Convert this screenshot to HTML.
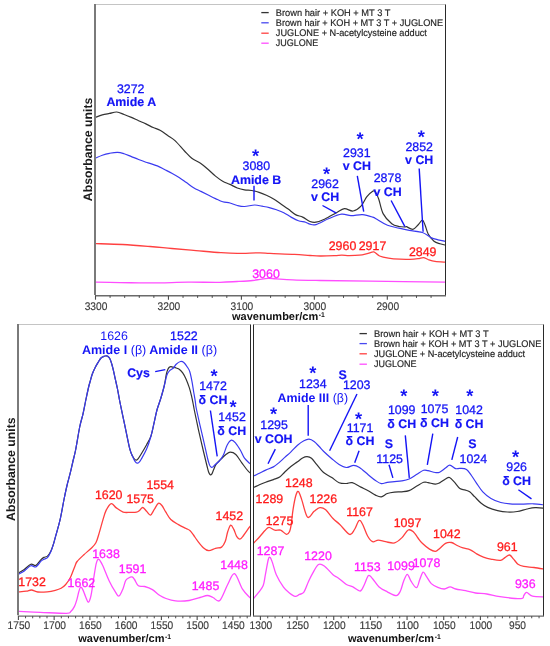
<!DOCTYPE html>
<html><head><meta charset="utf-8"><title>FTIR spectra</title><style>html,body{margin:0;padding:0;background:#fff;}svg{display:block;}text{font-family:"Liberation Sans",Arial,sans-serif;text-rendering:geometricPrecision;}</style></head><body>
<svg width="550" height="646" viewBox="0 0 550 646" font-family="Liberation Sans, Arial, sans-serif">
<rect width="550" height="646" fill="#ffffff"/>
<defs><clipPath id="cT"><rect x="96" y="5" width="349" height="290"/></clipPath><clipPath id="cL"><rect x="19" y="325" width="231" height="290.5"/></clipPath><clipPath id="cR"><rect x="254" y="325" width="289" height="290.5"/></clipPath></defs>
<line x1="95.00" y1="4.50" x2="445.50" y2="4.50" stroke="#c4c4c4" stroke-width="1.00" stroke-linecap="butt"/>
<line x1="445.50" y1="4.50" x2="445.50" y2="295.70" stroke="#2a2a2a" stroke-width="1.00" stroke-linecap="butt"/>
<line x1="95.00" y1="4.00" x2="95.00" y2="294.90" stroke="#7a7a7a" stroke-width="2.00" stroke-linecap="butt"/>
<line x1="95.00" y1="295.70" x2="446.00" y2="295.70" stroke="#6a6a6a" stroke-width="1.40" stroke-linecap="butt"/>
<line x1="431.07" y1="295.70" x2="431.07" y2="297.90" stroke="#4a4a4a" stroke-width="1.00" stroke-linecap="butt"/>
<line x1="416.48" y1="295.70" x2="416.48" y2="297.90" stroke="#4a4a4a" stroke-width="1.00" stroke-linecap="butt"/>
<line x1="401.89" y1="295.70" x2="401.89" y2="297.90" stroke="#4a4a4a" stroke-width="1.00" stroke-linecap="butt"/>
<line x1="387.30" y1="295.70" x2="387.30" y2="299.70" stroke="#4a4a4a" stroke-width="1.10" stroke-linecap="butt"/>
<line x1="372.71" y1="295.70" x2="372.71" y2="297.90" stroke="#4a4a4a" stroke-width="1.00" stroke-linecap="butt"/>
<line x1="358.12" y1="295.70" x2="358.12" y2="297.90" stroke="#4a4a4a" stroke-width="1.00" stroke-linecap="butt"/>
<line x1="343.53" y1="295.70" x2="343.53" y2="297.90" stroke="#4a4a4a" stroke-width="1.00" stroke-linecap="butt"/>
<line x1="328.94" y1="295.70" x2="328.94" y2="297.90" stroke="#4a4a4a" stroke-width="1.00" stroke-linecap="butt"/>
<line x1="314.35" y1="295.70" x2="314.35" y2="299.70" stroke="#4a4a4a" stroke-width="1.10" stroke-linecap="butt"/>
<line x1="299.76" y1="295.70" x2="299.76" y2="297.90" stroke="#4a4a4a" stroke-width="1.00" stroke-linecap="butt"/>
<line x1="285.17" y1="295.70" x2="285.17" y2="297.90" stroke="#4a4a4a" stroke-width="1.00" stroke-linecap="butt"/>
<line x1="270.58" y1="295.70" x2="270.58" y2="297.90" stroke="#4a4a4a" stroke-width="1.00" stroke-linecap="butt"/>
<line x1="255.99" y1="295.70" x2="255.99" y2="297.90" stroke="#4a4a4a" stroke-width="1.00" stroke-linecap="butt"/>
<line x1="241.40" y1="295.70" x2="241.40" y2="299.70" stroke="#4a4a4a" stroke-width="1.10" stroke-linecap="butt"/>
<line x1="226.81" y1="295.70" x2="226.81" y2="297.90" stroke="#4a4a4a" stroke-width="1.00" stroke-linecap="butt"/>
<line x1="212.22" y1="295.70" x2="212.22" y2="297.90" stroke="#4a4a4a" stroke-width="1.00" stroke-linecap="butt"/>
<line x1="197.63" y1="295.70" x2="197.63" y2="297.90" stroke="#4a4a4a" stroke-width="1.00" stroke-linecap="butt"/>
<line x1="183.04" y1="295.70" x2="183.04" y2="297.90" stroke="#4a4a4a" stroke-width="1.00" stroke-linecap="butt"/>
<line x1="168.45" y1="295.70" x2="168.45" y2="299.70" stroke="#4a4a4a" stroke-width="1.10" stroke-linecap="butt"/>
<line x1="153.86" y1="295.70" x2="153.86" y2="297.90" stroke="#4a4a4a" stroke-width="1.00" stroke-linecap="butt"/>
<line x1="139.27" y1="295.70" x2="139.27" y2="297.90" stroke="#4a4a4a" stroke-width="1.00" stroke-linecap="butt"/>
<line x1="124.68" y1="295.70" x2="124.68" y2="297.90" stroke="#4a4a4a" stroke-width="1.00" stroke-linecap="butt"/>
<line x1="110.09" y1="295.70" x2="110.09" y2="297.90" stroke="#4a4a4a" stroke-width="1.00" stroke-linecap="butt"/>
<line x1="95.50" y1="295.70" x2="95.50" y2="299.70" stroke="#4a4a4a" stroke-width="1.10" stroke-linecap="butt"/>
<text x="96.00" y="309.60" fill="#3a3a3a" font-size="11.00" text-anchor="middle" stroke="#3a3a3a" stroke-width="0.15" textLength="22.68" lengthAdjust="spacingAndGlyphs">3300</text>
<text x="168.95" y="309.60" fill="#3a3a3a" font-size="11.00" text-anchor="middle" stroke="#3a3a3a" stroke-width="0.15" textLength="22.68" lengthAdjust="spacingAndGlyphs">3200</text>
<text x="241.90" y="309.60" fill="#3a3a3a" font-size="11.00" text-anchor="middle" stroke="#3a3a3a" stroke-width="0.15" textLength="22.68" lengthAdjust="spacingAndGlyphs">3100</text>
<text x="314.85" y="309.60" fill="#3a3a3a" font-size="11.00" text-anchor="middle" stroke="#3a3a3a" stroke-width="0.15" textLength="22.68" lengthAdjust="spacingAndGlyphs">3000</text>
<text x="387.80" y="309.60" fill="#3a3a3a" font-size="11.00" text-anchor="middle" stroke="#3a3a3a" stroke-width="0.15" textLength="22.68" lengthAdjust="spacingAndGlyphs">2900</text>
<path d="M95.50,282.20 C99.58,282.27 112.75,282.50 120.00,282.60 C127.25,282.70 132.33,282.77 139.00,282.80 C145.67,282.83 151.83,282.90 160.00,282.80 C168.17,282.70 178.00,282.28 188.00,282.20 C198.00,282.12 211.83,282.42 220.00,282.30 C228.17,282.18 231.55,281.80 237.00,281.50 C242.45,281.20 248.87,280.87 252.70,280.50 C256.53,280.13 257.42,279.67 260.00,279.30 C262.58,278.93 265.53,278.38 268.20,278.30 C270.87,278.22 271.92,278.53 276.00,278.80 C280.08,279.07 285.37,279.62 292.70,279.90 C300.03,280.18 307.12,280.28 320.00,280.50 C332.88,280.72 349.00,280.92 370.00,281.20 C391.00,281.48 433.33,282.03 446.00,282.20" fill="none" stroke="#ff4dff" stroke-width="1.30" stroke-linejoin="round" stroke-linecap="round" clip-path="url(#cT)"/>
<path d="M95.50,243.60 C100.03,243.75 113.62,244.02 122.70,244.50 C131.78,244.98 141.82,245.83 150.00,246.50 C158.18,247.17 164.13,247.82 171.80,248.50 C179.47,249.18 187.82,249.90 196.00,250.60 C204.18,251.30 214.02,252.23 220.90,252.70 C227.78,253.17 230.78,253.38 237.30,253.40 C243.82,253.42 254.55,252.80 260.00,252.80 C265.45,252.80 264.25,253.13 270.00,253.40 C275.75,253.67 287.83,254.05 294.50,254.40 C301.17,254.75 305.75,255.23 310.00,255.50 C314.25,255.77 315.92,255.97 320.00,256.00 C324.08,256.03 330.87,255.83 334.50,255.70 C338.13,255.57 339.37,255.22 341.80,255.20 C344.23,255.18 346.18,255.60 349.10,255.60 C352.02,255.60 356.15,255.57 359.30,255.20 C362.45,254.83 365.58,253.95 368.00,253.40 C370.42,252.85 371.87,251.47 373.80,251.90 C375.73,252.33 377.17,254.97 379.60,256.00 C382.03,257.03 385.00,257.57 388.40,258.10 C391.80,258.63 396.40,259.00 400.00,259.20 C403.60,259.40 407.00,259.38 410.00,259.30 C413.00,259.22 415.75,258.98 418.00,258.70 C420.25,258.42 421.83,257.47 423.50,257.60 C425.17,257.73 426.08,258.87 428.00,259.50 C429.92,260.13 432.00,260.95 435.00,261.40 C438.00,261.85 444.17,262.07 446.00,262.20" fill="none" stroke="#ff4040" stroke-width="1.30" stroke-linejoin="round" stroke-linecap="round" clip-path="url(#cT)"/>
<path d="M95.50,117.40 C96.63,116.98 99.97,115.57 102.30,114.90 C104.63,114.23 107.08,113.88 109.50,113.40 C111.92,112.92 114.37,111.82 116.80,112.00 C119.23,112.18 121.67,113.60 124.10,114.50 C126.53,115.40 128.98,116.37 131.40,117.40 C133.82,118.43 136.18,119.62 138.60,120.70 C141.02,121.78 143.47,122.77 145.90,123.90 C148.33,125.03 150.77,126.40 153.20,127.50 C155.63,128.60 158.08,129.17 160.50,130.50 C162.92,131.83 165.28,133.82 167.70,135.50 C170.12,137.18 172.20,138.02 175.00,140.60 C177.80,143.18 181.70,148.05 184.50,151.00 C187.30,153.95 189.13,156.27 191.80,158.30 C194.47,160.33 197.77,161.33 200.50,163.20 C203.23,165.07 205.70,167.35 208.20,169.50 C210.70,171.65 213.08,174.15 215.50,176.10 C217.92,178.05 220.28,179.82 222.70,181.20 C225.12,182.58 227.57,183.27 230.00,184.40 C232.43,185.53 234.88,187.08 237.30,188.00 C239.72,188.92 242.08,189.48 244.50,189.90 C246.92,190.32 249.37,190.08 251.80,190.50 C254.23,190.92 256.67,191.60 259.10,192.40 C261.53,193.20 263.98,194.22 266.40,195.30 C268.82,196.38 271.18,197.45 273.60,198.90 C276.02,200.35 278.47,202.30 280.90,204.00 C283.33,205.70 285.77,207.33 288.20,209.10 C290.63,210.87 293.08,213.27 295.50,214.60 C297.92,215.93 300.28,215.95 302.70,217.10 C305.12,218.25 307.78,220.65 310.00,221.50 C312.22,222.35 313.50,222.62 316.00,222.20 C318.50,221.78 321.60,220.58 325.00,219.00 C328.40,217.42 333.17,214.42 336.40,212.70 C339.63,210.98 341.62,208.98 344.40,208.70 C347.18,208.42 350.33,211.42 353.10,211.00 C355.87,210.58 358.70,208.58 361.00,206.20 C363.30,203.82 364.95,199.18 366.90,196.70 C368.85,194.22 371.33,192.17 372.70,191.30 C374.07,190.43 374.10,190.22 375.10,191.50 C376.10,192.78 377.37,195.32 378.70,199.00 C380.03,202.68 380.92,209.47 383.10,213.60 C385.28,217.73 389.15,221.65 391.80,223.80 C394.45,225.95 396.82,225.97 399.00,226.50 C401.18,227.03 403.67,226.97 404.90,227.00 C406.13,227.03 405.07,226.32 406.40,226.70 C407.73,227.08 410.97,229.58 412.90,229.30 C414.83,229.02 416.42,226.52 418.00,225.00 C419.58,223.48 421.20,220.12 422.40,220.20 C423.60,220.28 424.23,223.20 425.20,225.50 C426.17,227.80 426.73,231.37 428.20,234.00 C429.67,236.63 432.03,239.67 434.00,241.30 C435.97,242.93 438.00,243.15 440.00,243.80 C442.00,244.45 445.00,244.97 446.00,245.20" fill="none" stroke="#333333" stroke-width="1.20" stroke-linejoin="round" stroke-linecap="round" clip-path="url(#cT)"/>
<path d="M95.50,158.10 C96.63,157.62 99.97,156.00 102.30,155.20 C104.63,154.40 106.97,153.78 109.50,153.30 C112.03,152.82 115.07,152.23 117.50,152.30 C119.93,152.37 121.78,152.98 124.10,153.70 C126.42,154.42 128.98,155.63 131.40,156.60 C133.82,157.57 136.18,158.57 138.60,159.50 C141.02,160.43 144.00,161.55 145.90,162.20 C147.80,162.85 148.10,162.78 150.00,163.40 C151.90,164.02 154.88,164.88 157.30,165.90 C159.72,166.92 162.08,168.28 164.50,169.50 C166.92,170.72 169.37,171.87 171.80,173.20 C174.23,174.53 176.67,175.93 179.10,177.50 C181.53,179.07 183.98,180.90 186.40,182.60 C188.82,184.30 191.18,186.23 193.60,187.70 C196.02,189.17 198.47,190.18 200.90,191.40 C203.33,192.62 205.77,193.80 208.20,195.00 C210.63,196.20 213.08,197.47 215.50,198.60 C217.92,199.73 220.28,201.07 222.70,201.80 C225.12,202.53 227.57,202.38 230.00,203.00 C232.43,203.62 234.88,204.92 237.30,205.50 C239.72,206.08 241.60,206.58 244.50,206.50 C247.40,206.42 251.78,205.05 254.70,205.00 C257.62,204.95 259.57,205.77 262.00,206.20 C264.43,206.63 266.88,207.00 269.30,207.60 C271.72,208.20 274.08,208.95 276.50,209.80 C278.92,210.65 281.37,211.48 283.80,212.70 C286.23,213.92 288.67,215.77 291.10,217.10 C293.53,218.43 295.98,219.85 298.40,220.70 C300.82,221.55 303.67,221.62 305.60,222.20 C307.53,222.78 308.27,223.80 310.00,224.20 C311.73,224.60 312.83,225.55 316.00,224.60 C319.17,223.65 324.75,220.23 329.00,218.50 C333.25,216.77 337.83,214.68 341.50,214.20 C345.17,213.72 347.50,215.53 351.00,215.60 C354.50,215.67 358.88,214.35 362.50,214.60 C366.12,214.85 370.23,216.28 372.70,217.10 C375.17,217.92 374.83,218.13 377.30,219.50 C379.77,220.87 383.88,223.85 387.50,225.30 C391.12,226.75 395.37,227.35 399.00,228.20 C402.63,229.05 405.40,229.68 409.30,230.40 C413.20,231.12 418.78,231.30 422.40,232.50 C426.02,233.70 428.40,236.38 431.00,237.60 C433.60,238.82 435.50,239.15 438.00,239.80 C440.50,240.45 444.67,241.22 446.00,241.50" fill="none" stroke="#3a3af0" stroke-width="1.20" stroke-linejoin="round" stroke-linecap="round" clip-path="url(#cT)"/>
<line x1="261.30" y1="12.60" x2="268.70" y2="12.60" stroke="#333333" stroke-width="1.30" stroke-linecap="butt"/>
<text x="275.80" y="15.60" fill="#262626" font-size="9.60" text-anchor="start" stroke="#262626" stroke-width="0.18" textLength="114.6" lengthAdjust="spacingAndGlyphs">Brown hair + KOH + MT 3 T</text>
<line x1="261.30" y1="22.80" x2="268.70" y2="22.80" stroke="#4848f0" stroke-width="1.30" stroke-linecap="butt"/>
<text x="275.80" y="25.80" fill="#262626" font-size="9.60" text-anchor="start" stroke="#262626" stroke-width="0.18" textLength="167.3" lengthAdjust="spacingAndGlyphs">Brown hair + KOH + MT 3 T + JUGLONE</text>
<line x1="261.30" y1="33.20" x2="268.70" y2="33.20" stroke="#ff4040" stroke-width="1.30" stroke-linecap="butt"/>
<text x="275.80" y="36.20" fill="#262626" font-size="9.60" text-anchor="start" stroke="#262626" stroke-width="0.18" textLength="151.1" lengthAdjust="spacingAndGlyphs">JUGLONE + N-acetylcysteine adduct</text>
<line x1="261.30" y1="43.20" x2="268.70" y2="43.20" stroke="#ff4dff" stroke-width="1.30" stroke-linecap="butt"/>
<text x="275.80" y="46.20" fill="#262626" font-size="9.60" text-anchor="start" stroke="#262626" stroke-width="0.18" textLength="42.5" lengthAdjust="spacingAndGlyphs">JUGLONE</text>
<text x="130.70" y="92.50" fill="#1414f5" font-size="12.40" text-anchor="middle" stroke="#1414f5" stroke-width="0.28">3272</text>
<text x="131.30" y="106.10" fill="#1414f5" font-size="12.40" font-weight="bold" text-anchor="middle" stroke="#1414f5" stroke-width="0.18">Amide A</text>
<text x="255.50" y="161.90" fill="#1414f5" font-size="18.3" font-weight="bold" text-anchor="middle">*</text>
<text x="256.30" y="170.10" fill="#1414f5" font-size="12.40" text-anchor="middle" stroke="#1414f5" stroke-width="0.28">3080</text>
<text x="256.10" y="184.30" fill="#1414f5" font-size="12.40" font-weight="bold" text-anchor="middle" stroke="#1414f5" stroke-width="0.18">Amide B</text>
<line x1="254.00" y1="185.80" x2="254.00" y2="200.40" stroke="#1414f5" stroke-width="1.40" stroke-linecap="butt"/>
<text x="326.50" y="180.10" fill="#1414f5" font-size="18.3" font-weight="bold" text-anchor="middle">*</text>
<text x="325.10" y="187.80" fill="#1414f5" font-size="12.40" text-anchor="middle" stroke="#1414f5" stroke-width="0.28">2962</text>
<text x="325.10" y="200.70" fill="#1414f5" font-size="12.40" font-weight="bold" text-anchor="middle" stroke="#1414f5" stroke-width="0.18">v CH</text>
<line x1="322.50" y1="205.50" x2="336.40" y2="213.20" stroke="#1414f5" stroke-width="1.40" stroke-linecap="butt"/>
<text x="360.00" y="145.40" fill="#1414f5" font-size="18.3" font-weight="bold" text-anchor="middle">*</text>
<text x="356.80" y="157.00" fill="#1414f5" font-size="12.40" text-anchor="middle" stroke="#1414f5" stroke-width="0.28">2931</text>
<text x="356.80" y="170.10" fill="#1414f5" font-size="12.40" font-weight="bold" text-anchor="middle" stroke="#1414f5" stroke-width="0.18">v CH</text>
<line x1="357.30" y1="175.90" x2="363.70" y2="211.70" stroke="#1414f5" stroke-width="1.40" stroke-linecap="butt"/>
<text x="387.50" y="182.30" fill="#1414f5" font-size="12.40" text-anchor="middle" stroke="#1414f5" stroke-width="0.28">2878</text>
<text x="387.50" y="196.10" fill="#1414f5" font-size="12.40" font-weight="bold" text-anchor="middle" stroke="#1414f5" stroke-width="0.18">v CH</text>
<line x1="391.10" y1="200.50" x2="404.90" y2="226.70" stroke="#1414f5" stroke-width="1.40" stroke-linecap="butt"/>
<text x="421.40" y="143.20" fill="#1414f5" font-size="18.3" font-weight="bold" text-anchor="middle">*</text>
<text x="419.20" y="150.80" fill="#1414f5" font-size="12.40" text-anchor="middle" stroke="#1414f5" stroke-width="0.28">2852</text>
<text x="419.20" y="163.80" fill="#1414f5" font-size="12.40" font-weight="bold" text-anchor="middle" stroke="#1414f5" stroke-width="0.18">v CH</text>
<line x1="419.20" y1="168.50" x2="423.10" y2="231.80" stroke="#1414f5" stroke-width="1.40" stroke-linecap="butt"/>
<text x="342.50" y="249.90" fill="#ff1a1a" font-size="12.40" text-anchor="middle" stroke="#ff1a1a" stroke-width="0.28">2960</text>
<text x="372.50" y="249.90" fill="#ff1a1a" font-size="12.40" text-anchor="middle" stroke="#ff1a1a" stroke-width="0.28">2917</text>
<text x="422.70" y="255.90" fill="#ff1a1a" font-size="12.40" text-anchor="middle" stroke="#ff1a1a" stroke-width="0.28">2849</text>
<text x="266.00" y="277.50" fill="#ff1aff" font-size="12.40" text-anchor="middle" stroke="#ff1aff" stroke-width="0.28">3060</text>
<text x="232.00" y="319.80" fill="#111" font-size="11" font-weight="bold">wavenumber/cm<tspan font-size="6.8" dx="0.6" dy="-2.9">-1</tspan></text>
<text transform="translate(92.3,149.4) rotate(-90)" fill="#1a1a1a" font-size="12.25" font-weight="bold" text-anchor="middle">Absorbance units</text>
<line x1="18.00" y1="324.50" x2="250.50" y2="324.50" stroke="#c4c4c4" stroke-width="1.00" stroke-linecap="butt"/>
<line x1="250.50" y1="324.50" x2="250.50" y2="616.10" stroke="#2a2a2a" stroke-width="1.00" stroke-linecap="butt"/>
<line x1="18.00" y1="324.00" x2="18.00" y2="615.30" stroke="#7a7a7a" stroke-width="2.00" stroke-linecap="butt"/>
<line x1="18.00" y1="616.10" x2="251.00" y2="616.10" stroke="#6a6a6a" stroke-width="1.40" stroke-linecap="butt"/>
<line x1="247.20" y1="616.10" x2="247.20" y2="618.30" stroke="#4a4a4a" stroke-width="1.00" stroke-linecap="butt"/>
<line x1="240.05" y1="616.10" x2="240.05" y2="618.30" stroke="#4a4a4a" stroke-width="1.00" stroke-linecap="butt"/>
<line x1="232.90" y1="616.10" x2="232.90" y2="620.10" stroke="#4a4a4a" stroke-width="1.10" stroke-linecap="butt"/>
<line x1="225.75" y1="616.10" x2="225.75" y2="618.30" stroke="#4a4a4a" stroke-width="1.00" stroke-linecap="butt"/>
<line x1="218.60" y1="616.10" x2="218.60" y2="618.30" stroke="#4a4a4a" stroke-width="1.00" stroke-linecap="butt"/>
<line x1="211.45" y1="616.10" x2="211.45" y2="618.30" stroke="#4a4a4a" stroke-width="1.00" stroke-linecap="butt"/>
<line x1="204.30" y1="616.10" x2="204.30" y2="618.30" stroke="#4a4a4a" stroke-width="1.00" stroke-linecap="butt"/>
<line x1="197.15" y1="616.10" x2="197.15" y2="620.10" stroke="#4a4a4a" stroke-width="1.10" stroke-linecap="butt"/>
<line x1="190.00" y1="616.10" x2="190.00" y2="618.30" stroke="#4a4a4a" stroke-width="1.00" stroke-linecap="butt"/>
<line x1="182.85" y1="616.10" x2="182.85" y2="618.30" stroke="#4a4a4a" stroke-width="1.00" stroke-linecap="butt"/>
<line x1="175.70" y1="616.10" x2="175.70" y2="618.30" stroke="#4a4a4a" stroke-width="1.00" stroke-linecap="butt"/>
<line x1="168.55" y1="616.10" x2="168.55" y2="618.30" stroke="#4a4a4a" stroke-width="1.00" stroke-linecap="butt"/>
<line x1="161.40" y1="616.10" x2="161.40" y2="620.10" stroke="#4a4a4a" stroke-width="1.10" stroke-linecap="butt"/>
<line x1="154.25" y1="616.10" x2="154.25" y2="618.30" stroke="#4a4a4a" stroke-width="1.00" stroke-linecap="butt"/>
<line x1="147.10" y1="616.10" x2="147.10" y2="618.30" stroke="#4a4a4a" stroke-width="1.00" stroke-linecap="butt"/>
<line x1="139.95" y1="616.10" x2="139.95" y2="618.30" stroke="#4a4a4a" stroke-width="1.00" stroke-linecap="butt"/>
<line x1="132.80" y1="616.10" x2="132.80" y2="618.30" stroke="#4a4a4a" stroke-width="1.00" stroke-linecap="butt"/>
<line x1="125.65" y1="616.10" x2="125.65" y2="620.10" stroke="#4a4a4a" stroke-width="1.10" stroke-linecap="butt"/>
<line x1="118.50" y1="616.10" x2="118.50" y2="618.30" stroke="#4a4a4a" stroke-width="1.00" stroke-linecap="butt"/>
<line x1="111.35" y1="616.10" x2="111.35" y2="618.30" stroke="#4a4a4a" stroke-width="1.00" stroke-linecap="butt"/>
<line x1="104.20" y1="616.10" x2="104.20" y2="618.30" stroke="#4a4a4a" stroke-width="1.00" stroke-linecap="butt"/>
<line x1="97.05" y1="616.10" x2="97.05" y2="618.30" stroke="#4a4a4a" stroke-width="1.00" stroke-linecap="butt"/>
<line x1="89.90" y1="616.10" x2="89.90" y2="620.10" stroke="#4a4a4a" stroke-width="1.10" stroke-linecap="butt"/>
<line x1="82.75" y1="616.10" x2="82.75" y2="618.30" stroke="#4a4a4a" stroke-width="1.00" stroke-linecap="butt"/>
<line x1="75.60" y1="616.10" x2="75.60" y2="618.30" stroke="#4a4a4a" stroke-width="1.00" stroke-linecap="butt"/>
<line x1="68.45" y1="616.10" x2="68.45" y2="618.30" stroke="#4a4a4a" stroke-width="1.00" stroke-linecap="butt"/>
<line x1="61.30" y1="616.10" x2="61.30" y2="618.30" stroke="#4a4a4a" stroke-width="1.00" stroke-linecap="butt"/>
<line x1="54.15" y1="616.10" x2="54.15" y2="620.10" stroke="#4a4a4a" stroke-width="1.10" stroke-linecap="butt"/>
<line x1="47.00" y1="616.10" x2="47.00" y2="618.30" stroke="#4a4a4a" stroke-width="1.00" stroke-linecap="butt"/>
<line x1="39.85" y1="616.10" x2="39.85" y2="618.30" stroke="#4a4a4a" stroke-width="1.00" stroke-linecap="butt"/>
<line x1="32.70" y1="616.10" x2="32.70" y2="618.30" stroke="#4a4a4a" stroke-width="1.00" stroke-linecap="butt"/>
<line x1="25.55" y1="616.10" x2="25.55" y2="618.30" stroke="#4a4a4a" stroke-width="1.00" stroke-linecap="butt"/>
<line x1="18.40" y1="616.10" x2="18.40" y2="620.10" stroke="#4a4a4a" stroke-width="1.10" stroke-linecap="butt"/>
<text x="18.90" y="629.20" fill="#3a3a3a" font-size="11.00" text-anchor="middle" stroke="#3a3a3a" stroke-width="0.15" textLength="22.68" lengthAdjust="spacingAndGlyphs">1750</text>
<text x="54.65" y="629.20" fill="#3a3a3a" font-size="11.00" text-anchor="middle" stroke="#3a3a3a" stroke-width="0.15" textLength="22.68" lengthAdjust="spacingAndGlyphs">1700</text>
<text x="90.40" y="629.20" fill="#3a3a3a" font-size="11.00" text-anchor="middle" stroke="#3a3a3a" stroke-width="0.15" textLength="22.68" lengthAdjust="spacingAndGlyphs">1650</text>
<text x="126.15" y="629.20" fill="#3a3a3a" font-size="11.00" text-anchor="middle" stroke="#3a3a3a" stroke-width="0.15" textLength="22.68" lengthAdjust="spacingAndGlyphs">1600</text>
<text x="161.90" y="629.20" fill="#3a3a3a" font-size="11.00" text-anchor="middle" stroke="#3a3a3a" stroke-width="0.15" textLength="22.68" lengthAdjust="spacingAndGlyphs">1550</text>
<text x="197.65" y="629.20" fill="#3a3a3a" font-size="11.00" text-anchor="middle" stroke="#3a3a3a" stroke-width="0.15" textLength="22.68" lengthAdjust="spacingAndGlyphs">1500</text>
<text x="233.40" y="629.20" fill="#3a3a3a" font-size="11.00" text-anchor="middle" stroke="#3a3a3a" stroke-width="0.15" textLength="22.68" lengthAdjust="spacingAndGlyphs">1450</text>
<text transform="translate(15.4,469.2) rotate(-90)" fill="#1a1a1a" font-size="12.25" font-weight="bold" text-anchor="middle">Absorbance units</text>
<text x="78.30" y="641.70" fill="#111" font-size="11" font-weight="bold">wavenumber/cm<tspan font-size="6.8" dx="0.6" dy="-2.9">-1</tspan></text>
<path d="M18.20,611.40 C21.87,611.55 32.15,611.97 40.20,612.30 C48.25,612.63 61.40,613.53 66.50,613.40 C71.60,613.27 69.47,612.67 70.80,611.50 C72.13,610.33 73.47,608.47 74.50,606.40 C75.53,604.33 76.28,601.53 77.00,599.10 C77.72,596.67 78.20,593.80 78.80,591.80 C79.40,589.80 79.93,587.47 80.60,587.10 C81.27,586.73 82.00,588.08 82.80,589.60 C83.60,591.12 84.48,594.10 85.40,596.20 C86.32,598.30 87.45,601.97 88.30,602.20 C89.15,602.43 89.90,599.57 90.50,597.60 C91.10,595.63 91.48,592.82 91.90,590.40 C92.32,587.98 92.68,585.25 93.00,583.10 C93.32,580.95 93.23,580.87 93.80,577.50 C94.37,574.13 95.55,565.93 96.40,562.90 C97.25,559.87 97.85,558.87 98.90,559.30 C99.95,559.73 101.00,561.93 102.70,565.50 C104.40,569.07 106.97,576.25 109.10,580.70 C111.23,585.15 113.85,589.65 115.50,592.20 C117.15,594.75 117.73,596.63 119.00,596.00 C120.27,595.37 122.00,590.95 123.10,588.40 C124.20,585.85 124.75,582.40 125.60,580.70 C126.45,579.00 127.13,578.83 128.20,578.20 C129.27,577.57 130.95,576.68 132.00,576.90 C133.05,577.12 133.43,578.02 134.50,579.50 C135.57,580.98 136.70,584.63 138.40,585.80 C140.10,586.97 142.37,585.87 144.70,586.50 C147.03,587.13 150.07,588.23 152.40,589.60 C154.73,590.97 156.43,593.22 158.70,594.70 C160.97,596.18 163.20,597.47 166.00,598.50 C168.80,599.53 171.65,600.57 175.50,600.90 C179.35,601.23 185.02,601.07 189.10,600.50 C193.18,599.93 196.97,598.33 200.00,597.50 C203.03,596.67 205.13,595.50 207.30,595.50 C209.47,595.50 210.92,596.67 213.00,597.50 C215.08,598.33 217.35,602.67 219.80,600.50 C222.25,598.33 225.25,588.98 227.70,584.50 C230.15,580.02 232.03,572.83 234.50,573.60 C236.97,574.37 240.03,585.20 242.50,589.10 C244.97,593.00 247.80,595.43 249.30,597.00 C250.80,598.57 251.13,598.25 251.50,598.50" fill="none" stroke="#ff4dff" stroke-width="1.30" stroke-linejoin="round" stroke-linecap="round" clip-path="url(#cL)"/>
<path d="M18.20,592.00 C19.55,591.87 24.08,591.53 26.30,591.20 C28.52,590.87 29.57,589.87 31.50,590.00 C33.43,590.13 35.28,591.70 37.90,592.00 C40.52,592.30 44.30,592.08 47.20,591.80 C50.10,591.52 52.98,590.90 55.30,590.30 C57.62,589.70 59.37,589.17 61.10,588.20 C62.83,587.23 64.15,586.28 65.70,584.50 C67.25,582.72 68.85,580.60 70.40,577.50 C71.95,574.40 73.88,568.57 75.00,565.90 C76.12,563.23 75.62,563.37 77.10,561.50 C78.58,559.63 81.63,556.83 83.90,554.70 C86.17,552.57 88.70,550.68 90.70,548.70 C92.70,546.72 94.47,545.48 95.90,542.80 C97.33,540.12 98.17,536.30 99.30,532.60 C100.43,528.90 101.57,524.30 102.70,520.60 C103.83,516.90 104.68,513.23 106.10,510.40 C107.52,507.57 109.50,504.02 111.20,503.60 C112.90,503.18 114.32,506.48 116.30,507.90 C118.28,509.32 120.82,511.35 123.10,512.10 C125.38,512.85 127.77,512.38 130.00,512.40 C132.23,512.42 134.92,512.52 136.50,512.20 C138.08,511.88 138.45,511.28 139.50,510.50 C140.55,509.72 141.62,507.37 142.80,507.50 C143.98,507.63 145.32,510.03 146.60,511.30 C147.88,512.57 149.22,515.42 150.50,515.10 C151.78,514.78 153.00,511.37 154.30,509.40 C155.60,507.43 157.03,503.95 158.30,503.30 C159.57,502.65 160.67,504.07 161.90,505.50 C163.13,506.93 164.22,509.57 165.70,511.90 C167.18,514.23 168.67,517.38 170.80,519.50 C172.93,521.62 175.95,523.10 178.50,524.60 C181.05,526.10 184.20,527.50 186.10,528.50 C188.00,529.50 188.67,529.52 189.90,530.60 C191.13,531.68 192.28,533.37 193.50,535.00 C194.72,536.63 195.57,538.28 197.20,540.40 C198.83,542.52 201.37,545.98 203.30,547.70 C205.23,549.42 206.77,550.60 208.80,550.70 C210.83,550.80 213.37,548.90 215.50,548.30 C217.63,547.70 219.98,548.22 221.60,547.10 C223.22,545.98 224.18,544.15 225.20,541.60 C226.22,539.05 226.78,534.55 227.70,531.80 C228.62,529.05 229.68,525.50 230.70,525.10 C231.72,524.70 232.78,527.47 233.80,529.40 C234.82,531.33 235.78,535.08 236.80,536.70 C237.82,538.32 238.78,539.30 239.90,539.10 C241.02,538.90 241.88,537.52 243.50,535.50 C245.12,533.48 248.18,528.83 249.60,527.00 C251.02,525.17 251.60,524.92 252.00,524.50" fill="none" stroke="#ff4040" stroke-width="1.30" stroke-linejoin="round" stroke-linecap="round" clip-path="url(#cL)"/>
<path d="M18.20,573.20 C19.22,572.57 22.20,570.88 24.30,569.40 C26.40,567.92 28.87,564.97 30.80,564.30 C32.73,563.63 34.20,566.18 35.90,565.40 C37.60,564.62 39.67,560.93 41.00,559.60 C42.33,558.27 42.82,557.98 43.90,557.40 C44.98,556.82 46.35,557.13 47.50,556.10 C48.65,555.07 49.82,553.18 50.80,551.20 C51.78,549.22 52.62,546.62 53.40,544.20 C54.18,541.78 54.38,540.78 55.50,536.70 C56.62,532.62 58.68,525.90 60.10,519.70 C61.52,513.50 62.85,505.20 64.00,499.50 C65.15,493.80 65.97,489.88 67.00,485.50 C68.03,481.12 69.20,477.28 70.20,473.20 C71.20,469.12 72.10,464.87 73.00,461.00 C73.90,457.13 74.48,455.67 75.60,450.00 C76.72,444.33 78.48,432.95 79.70,427.00 C80.92,421.05 81.93,418.55 82.90,414.30 C83.87,410.05 84.77,405.05 85.50,401.50 C86.23,397.95 86.72,395.67 87.30,393.00 C87.88,390.33 88.50,387.50 89.00,385.50 C89.50,383.50 89.75,382.92 90.30,381.00 C90.85,379.08 91.48,376.25 92.30,374.00 C93.12,371.75 94.23,369.43 95.20,367.50 C96.17,365.57 97.13,363.98 98.10,362.40 C99.07,360.82 100.03,359.00 101.00,358.00 C101.97,357.00 102.98,356.77 103.90,356.40 C104.82,356.03 105.65,355.65 106.50,355.80 C107.35,355.95 108.33,356.57 109.00,357.30 C109.67,358.03 110.02,359.00 110.50,360.20 C110.98,361.40 111.42,362.80 111.90,364.50 C112.38,366.20 112.92,368.33 113.40,370.40 C113.88,372.47 114.32,374.72 114.80,376.90 C115.28,379.08 115.85,381.48 116.30,383.50 C116.75,385.52 116.92,386.00 117.50,389.00 C118.08,392.00 118.88,396.87 119.80,401.50 C120.72,406.13 121.93,411.70 123.00,416.80 C124.07,421.90 125.13,427.00 126.20,432.10 C127.27,437.20 128.57,443.87 129.40,447.40 C130.23,450.93 130.57,451.65 131.20,453.30 C131.83,454.95 132.60,456.28 133.20,457.30 C133.80,458.32 134.27,458.92 134.80,459.40 C135.33,459.88 135.83,460.33 136.40,460.20 C136.97,460.07 137.40,459.63 138.20,458.60 C139.00,457.57 139.80,456.32 141.20,454.00 C142.60,451.68 144.97,447.70 146.60,444.70 C148.23,441.70 149.72,439.82 151.00,436.00 C152.28,432.18 153.28,426.22 154.30,421.80 C155.32,417.38 156.00,413.47 157.10,409.50 C158.20,405.53 159.72,401.92 160.90,398.00 C162.08,394.08 163.28,390.00 164.20,386.00 C165.12,382.00 165.80,376.75 166.40,374.00 C167.00,371.25 167.32,370.62 167.80,369.50 C168.28,368.38 168.78,367.78 169.30,367.30 C169.82,366.82 170.30,366.62 170.90,366.60 C171.50,366.58 172.02,366.97 172.90,367.20 C173.78,367.43 175.10,367.63 176.20,368.00 C177.30,368.37 178.42,368.58 179.50,369.40 C180.58,370.22 181.62,371.32 182.70,372.90 C183.78,374.48 184.90,376.45 186.00,378.90 C187.10,381.35 188.38,384.78 189.30,387.60 C190.22,390.42 190.87,393.15 191.50,395.80 C192.13,398.45 192.65,401.22 193.10,403.50 C193.55,405.78 193.67,406.83 194.20,409.50 C194.73,412.17 195.55,415.93 196.30,419.50 C197.05,423.07 197.48,425.48 198.70,430.90 C199.92,436.32 202.22,446.15 203.60,452.00 C204.98,457.85 206.15,462.62 207.00,466.00 C207.85,469.38 208.17,470.85 208.70,472.30 C209.23,473.75 209.70,474.38 210.20,474.70 C210.70,475.02 211.20,474.85 211.70,474.20 C212.20,473.55 212.48,472.43 213.20,470.80 C213.92,469.17 214.72,466.33 216.00,464.40 C217.28,462.47 219.25,460.85 220.90,459.20 C222.55,457.55 224.35,455.67 225.90,454.50 C227.45,453.33 228.55,452.20 230.20,452.20 C231.85,452.20 233.83,452.68 235.80,454.50 C237.77,456.32 239.93,460.32 242.00,463.10 C244.07,465.88 246.62,469.45 248.20,471.20 C249.78,472.95 250.95,473.20 251.50,473.60" fill="none" stroke="#333333" stroke-width="1.20" stroke-linejoin="round" stroke-linecap="round" clip-path="url(#cL)"/>
<path d="M18.20,574.40 C19.22,573.82 22.20,572.33 24.30,570.90 C26.40,569.47 28.87,566.47 30.80,565.80 C32.73,565.13 34.20,567.68 35.90,566.90 C37.60,566.12 39.67,562.37 41.00,561.10 C42.33,559.83 42.82,559.88 43.90,559.30 C44.98,558.72 46.35,558.85 47.50,557.60 C48.65,556.35 49.82,554.00 50.80,551.80 C51.78,549.60 52.62,546.92 53.40,544.40 C54.18,541.88 54.38,540.82 55.50,536.70 C56.62,532.58 58.68,525.90 60.10,519.70 C61.52,513.50 62.85,505.20 64.00,499.50 C65.15,493.80 65.97,489.88 67.00,485.50 C68.03,481.12 69.20,477.28 70.20,473.20 C71.20,469.12 72.10,464.87 73.00,461.00 C73.90,457.13 74.48,455.67 75.60,450.00 C76.72,444.33 78.48,432.95 79.70,427.00 C80.92,421.05 81.93,418.55 82.90,414.30 C83.87,410.05 84.77,405.05 85.50,401.50 C86.23,397.95 86.72,395.67 87.30,393.00 C87.88,390.33 88.50,387.50 89.00,385.50 C89.50,383.50 89.75,382.92 90.30,381.00 C90.85,379.08 91.48,376.25 92.30,374.00 C93.12,371.75 94.23,369.43 95.20,367.50 C96.17,365.57 97.13,363.98 98.10,362.40 C99.07,360.82 100.03,359.00 101.00,358.00 C101.97,357.00 102.98,356.77 103.90,356.40 C104.82,356.03 105.65,355.65 106.50,355.80 C107.35,355.95 108.33,356.57 109.00,357.30 C109.67,358.03 110.02,359.00 110.50,360.20 C110.98,361.40 111.42,362.80 111.90,364.50 C112.38,366.20 112.92,368.33 113.40,370.40 C113.88,372.47 114.32,374.72 114.80,376.90 C115.28,379.08 115.85,381.48 116.30,383.50 C116.75,385.52 116.92,386.00 117.50,389.00 C118.08,392.00 118.88,396.87 119.80,401.50 C120.72,406.13 121.93,411.70 123.00,416.80 C124.07,421.90 125.13,427.00 126.20,432.10 C127.27,437.20 128.55,443.83 129.40,447.40 C130.25,450.97 130.65,451.73 131.30,453.50 C131.95,455.27 132.68,456.70 133.30,458.00 C133.92,459.30 134.35,460.43 135.00,461.30 C135.65,462.17 136.50,463.05 137.20,463.20 C137.90,463.35 138.53,462.87 139.20,462.20 C139.87,461.53 139.97,461.38 141.20,459.20 C142.43,457.02 144.97,452.97 146.60,449.10 C148.23,445.23 149.72,440.55 151.00,436.00 C152.28,431.45 153.28,426.22 154.30,421.80 C155.32,417.38 156.00,413.47 157.10,409.50 C158.20,405.53 159.72,401.92 160.90,398.00 C162.08,394.08 163.20,389.82 164.20,386.00 C165.20,382.18 166.00,377.65 166.90,375.10 C167.80,372.55 168.50,371.88 169.60,370.70 C170.70,369.52 172.40,369.08 173.50,368.00 C174.60,366.92 175.03,365.28 176.20,364.20 C177.37,363.12 179.23,361.78 180.50,361.50 C181.77,361.22 182.62,361.50 183.80,362.50 C184.98,363.50 186.60,365.95 187.60,367.50 C188.60,369.05 189.07,369.45 189.80,371.80 C190.53,374.15 191.37,378.32 192.00,381.60 C192.63,384.88 193.05,388.22 193.60,391.50 C194.15,394.78 194.87,398.55 195.30,401.30 C195.73,404.05 195.43,404.08 196.20,408.00 C196.97,411.92 198.57,418.92 199.90,424.80 C201.23,430.68 202.92,437.68 204.20,443.30 C205.48,448.92 206.73,454.95 207.60,458.50 C208.47,462.05 208.83,463.17 209.40,464.60 C209.97,466.03 210.43,466.72 211.00,467.10 C211.57,467.48 212.17,467.25 212.80,466.90 C213.43,466.55 213.65,466.05 214.80,465.00 C215.95,463.95 218.27,462.25 219.70,460.60 C221.13,458.95 222.17,457.67 223.40,455.10 C224.63,452.53 225.75,447.68 227.10,445.20 C228.45,442.72 230.05,440.52 231.50,440.20 C232.95,439.88 234.27,441.55 235.80,443.30 C237.33,445.05 239.25,448.22 240.70,450.70 C242.15,453.18 243.05,456.13 244.50,458.20 C245.95,460.27 248.23,462.05 249.40,463.10 C250.57,464.15 251.15,464.27 251.50,464.50" fill="none" stroke="#3a3af0" stroke-width="1.20" stroke-linejoin="round" stroke-linecap="round" clip-path="url(#cL)"/>
<text x="114.1" y="339.8" fill="#1414f5" font-size="12.4" text-anchor="middle">1626</text>
<text x="81.9" y="353.8" fill="#1414f5" font-size="12.55" font-weight="bold">Amide I <tspan font-weight="normal">(&#946;)</tspan> Amide II <tspan font-weight="normal">(&#946;)</tspan></text>
<text x="183.90" y="340.20" fill="#1414f5" font-size="12.40" text-anchor="middle" stroke="#1414f5" stroke-width="0.28">1522</text>
<text x="149.90" y="376.60" fill="#1414f5" font-size="12.40" font-weight="bold" text-anchor="end" stroke="#1414f5" stroke-width="0.18">Cys</text>
<line x1="155.20" y1="371.60" x2="165.30" y2="369.60" stroke="#1414f5" stroke-width="1.40" stroke-linecap="butt"/>
<text x="214.10" y="381.90" fill="#1414f5" font-size="18.3" font-weight="bold" text-anchor="middle">*</text>
<text x="213.00" y="390.20" fill="#1414f5" font-size="12.40" text-anchor="middle" stroke="#1414f5" stroke-width="0.28">1472</text>
<text x="213.00" y="403.80" fill="#1414f5" font-size="12.40" font-weight="bold" text-anchor="middle" stroke="#1414f5" stroke-width="0.18">&#948; CH</text>
<line x1="210.40" y1="410.50" x2="217.20" y2="456.30" stroke="#1414f5" stroke-width="1.40" stroke-linecap="butt"/>
<text x="233.00" y="412.60" fill="#1414f5" font-size="18.3" font-weight="bold" text-anchor="middle">*</text>
<text x="232.00" y="420.60" fill="#1414f5" font-size="12.40" text-anchor="middle" stroke="#1414f5" stroke-width="0.28">1452</text>
<text x="231.80" y="434.50" fill="#1414f5" font-size="12.40" font-weight="bold" text-anchor="middle" stroke="#1414f5" stroke-width="0.18">&#948; CH</text>
<text x="108.70" y="498.80" fill="#ff1a1a" font-size="12.40" text-anchor="middle" stroke="#ff1a1a" stroke-width="0.28">1620</text>
<text x="140.20" y="502.50" fill="#ff1a1a" font-size="12.40" text-anchor="middle" stroke="#ff1a1a" stroke-width="0.28">1575</text>
<text x="160.20" y="488.80" fill="#ff1a1a" font-size="12.40" text-anchor="middle" stroke="#ff1a1a" stroke-width="0.28">1554</text>
<text x="229.30" y="520.10" fill="#ff1a1a" font-size="12.40" text-anchor="middle" stroke="#ff1a1a" stroke-width="0.28">1452</text>
<text x="32.10" y="586.40" fill="#ff1a1a" font-size="12.40" text-anchor="middle" stroke="#ff1a1a" stroke-width="0.28">1732</text>
<text x="81.40" y="586.90" fill="#ff1aff" font-size="12.40" text-anchor="middle" stroke="#ff1aff" stroke-width="0.28">1662</text>
<text x="106.00" y="558.40" fill="#ff1aff" font-size="12.40" text-anchor="middle" stroke="#ff1aff" stroke-width="0.28">1638</text>
<text x="132.60" y="572.90" fill="#ff1aff" font-size="12.40" text-anchor="middle" stroke="#ff1aff" stroke-width="0.28">1591</text>
<text x="205.50" y="590.00" fill="#ff1aff" font-size="12.40" text-anchor="middle" stroke="#ff1aff" stroke-width="0.28">1485</text>
<text x="234.10" y="568.80" fill="#ff1aff" font-size="12.40" text-anchor="middle" stroke="#ff1aff" stroke-width="0.28">1448</text>
<line x1="253.50" y1="324.50" x2="543.50" y2="324.50" stroke="#c4c4c4" stroke-width="1.00" stroke-linecap="butt"/>
<line x1="543.50" y1="324.50" x2="543.50" y2="616.10" stroke="#2a2a2a" stroke-width="1.00" stroke-linecap="butt"/>
<line x1="253.50" y1="324.50" x2="253.50" y2="616.10" stroke="#2a2a2a" stroke-width="1.00" stroke-linecap="butt"/>
<line x1="253.00" y1="616.10" x2="544.00" y2="616.10" stroke="#6a6a6a" stroke-width="1.40" stroke-linecap="butt"/>
<line x1="539.05" y1="616.10" x2="539.05" y2="618.30" stroke="#4a4a4a" stroke-width="1.00" stroke-linecap="butt"/>
<line x1="531.72" y1="616.10" x2="531.72" y2="618.30" stroke="#4a4a4a" stroke-width="1.00" stroke-linecap="butt"/>
<line x1="524.39" y1="616.10" x2="524.39" y2="618.30" stroke="#4a4a4a" stroke-width="1.00" stroke-linecap="butt"/>
<line x1="517.05" y1="616.10" x2="517.05" y2="620.10" stroke="#4a4a4a" stroke-width="1.10" stroke-linecap="butt"/>
<line x1="509.72" y1="616.10" x2="509.72" y2="618.30" stroke="#4a4a4a" stroke-width="1.00" stroke-linecap="butt"/>
<line x1="502.39" y1="616.10" x2="502.39" y2="618.30" stroke="#4a4a4a" stroke-width="1.00" stroke-linecap="butt"/>
<line x1="495.06" y1="616.10" x2="495.06" y2="618.30" stroke="#4a4a4a" stroke-width="1.00" stroke-linecap="butt"/>
<line x1="487.72" y1="616.10" x2="487.72" y2="618.30" stroke="#4a4a4a" stroke-width="1.00" stroke-linecap="butt"/>
<line x1="480.39" y1="616.10" x2="480.39" y2="620.10" stroke="#4a4a4a" stroke-width="1.10" stroke-linecap="butt"/>
<line x1="473.06" y1="616.10" x2="473.06" y2="618.30" stroke="#4a4a4a" stroke-width="1.00" stroke-linecap="butt"/>
<line x1="465.72" y1="616.10" x2="465.72" y2="618.30" stroke="#4a4a4a" stroke-width="1.00" stroke-linecap="butt"/>
<line x1="458.39" y1="616.10" x2="458.39" y2="618.30" stroke="#4a4a4a" stroke-width="1.00" stroke-linecap="butt"/>
<line x1="451.06" y1="616.10" x2="451.06" y2="618.30" stroke="#4a4a4a" stroke-width="1.00" stroke-linecap="butt"/>
<line x1="443.72" y1="616.10" x2="443.72" y2="620.10" stroke="#4a4a4a" stroke-width="1.10" stroke-linecap="butt"/>
<line x1="436.39" y1="616.10" x2="436.39" y2="618.30" stroke="#4a4a4a" stroke-width="1.00" stroke-linecap="butt"/>
<line x1="429.06" y1="616.10" x2="429.06" y2="618.30" stroke="#4a4a4a" stroke-width="1.00" stroke-linecap="butt"/>
<line x1="421.73" y1="616.10" x2="421.73" y2="618.30" stroke="#4a4a4a" stroke-width="1.00" stroke-linecap="butt"/>
<line x1="414.39" y1="616.10" x2="414.39" y2="618.30" stroke="#4a4a4a" stroke-width="1.00" stroke-linecap="butt"/>
<line x1="407.06" y1="616.10" x2="407.06" y2="620.10" stroke="#4a4a4a" stroke-width="1.10" stroke-linecap="butt"/>
<line x1="399.73" y1="616.10" x2="399.73" y2="618.30" stroke="#4a4a4a" stroke-width="1.00" stroke-linecap="butt"/>
<line x1="392.39" y1="616.10" x2="392.39" y2="618.30" stroke="#4a4a4a" stroke-width="1.00" stroke-linecap="butt"/>
<line x1="385.06" y1="616.10" x2="385.06" y2="618.30" stroke="#4a4a4a" stroke-width="1.00" stroke-linecap="butt"/>
<line x1="377.73" y1="616.10" x2="377.73" y2="618.30" stroke="#4a4a4a" stroke-width="1.00" stroke-linecap="butt"/>
<line x1="370.39" y1="616.10" x2="370.39" y2="620.10" stroke="#4a4a4a" stroke-width="1.10" stroke-linecap="butt"/>
<line x1="363.06" y1="616.10" x2="363.06" y2="618.30" stroke="#4a4a4a" stroke-width="1.00" stroke-linecap="butt"/>
<line x1="355.73" y1="616.10" x2="355.73" y2="618.30" stroke="#4a4a4a" stroke-width="1.00" stroke-linecap="butt"/>
<line x1="348.40" y1="616.10" x2="348.40" y2="618.30" stroke="#4a4a4a" stroke-width="1.00" stroke-linecap="butt"/>
<line x1="341.06" y1="616.10" x2="341.06" y2="618.30" stroke="#4a4a4a" stroke-width="1.00" stroke-linecap="butt"/>
<line x1="333.73" y1="616.10" x2="333.73" y2="620.10" stroke="#4a4a4a" stroke-width="1.10" stroke-linecap="butt"/>
<line x1="326.40" y1="616.10" x2="326.40" y2="618.30" stroke="#4a4a4a" stroke-width="1.00" stroke-linecap="butt"/>
<line x1="319.06" y1="616.10" x2="319.06" y2="618.30" stroke="#4a4a4a" stroke-width="1.00" stroke-linecap="butt"/>
<line x1="311.73" y1="616.10" x2="311.73" y2="618.30" stroke="#4a4a4a" stroke-width="1.00" stroke-linecap="butt"/>
<line x1="304.40" y1="616.10" x2="304.40" y2="618.30" stroke="#4a4a4a" stroke-width="1.00" stroke-linecap="butt"/>
<line x1="297.06" y1="616.10" x2="297.06" y2="620.10" stroke="#4a4a4a" stroke-width="1.10" stroke-linecap="butt"/>
<line x1="289.73" y1="616.10" x2="289.73" y2="618.30" stroke="#4a4a4a" stroke-width="1.00" stroke-linecap="butt"/>
<line x1="282.40" y1="616.10" x2="282.40" y2="618.30" stroke="#4a4a4a" stroke-width="1.00" stroke-linecap="butt"/>
<line x1="275.07" y1="616.10" x2="275.07" y2="618.30" stroke="#4a4a4a" stroke-width="1.00" stroke-linecap="butt"/>
<line x1="267.73" y1="616.10" x2="267.73" y2="618.30" stroke="#4a4a4a" stroke-width="1.00" stroke-linecap="butt"/>
<line x1="260.40" y1="616.10" x2="260.40" y2="620.10" stroke="#4a4a4a" stroke-width="1.10" stroke-linecap="butt"/>
<text x="260.90" y="629.20" fill="#3a3a3a" font-size="11.00" text-anchor="middle" stroke="#3a3a3a" stroke-width="0.15" textLength="22.68" lengthAdjust="spacingAndGlyphs">1300</text>
<text x="297.56" y="629.20" fill="#3a3a3a" font-size="11.00" text-anchor="middle" stroke="#3a3a3a" stroke-width="0.15" textLength="22.68" lengthAdjust="spacingAndGlyphs">1250</text>
<text x="334.23" y="629.20" fill="#3a3a3a" font-size="11.00" text-anchor="middle" stroke="#3a3a3a" stroke-width="0.15" textLength="22.68" lengthAdjust="spacingAndGlyphs">1200</text>
<text x="370.89" y="629.20" fill="#3a3a3a" font-size="11.00" text-anchor="middle" stroke="#3a3a3a" stroke-width="0.15" textLength="22.68" lengthAdjust="spacingAndGlyphs">1150</text>
<text x="407.56" y="629.20" fill="#3a3a3a" font-size="11.00" text-anchor="middle" stroke="#3a3a3a" stroke-width="0.15" textLength="22.68" lengthAdjust="spacingAndGlyphs">1100</text>
<text x="444.22" y="629.20" fill="#3a3a3a" font-size="11.00" text-anchor="middle" stroke="#3a3a3a" stroke-width="0.15" textLength="22.68" lengthAdjust="spacingAndGlyphs">1050</text>
<text x="480.89" y="629.20" fill="#3a3a3a" font-size="11.00" text-anchor="middle" stroke="#3a3a3a" stroke-width="0.15" textLength="22.68" lengthAdjust="spacingAndGlyphs">1000</text>
<text x="517.55" y="629.20" fill="#3a3a3a" font-size="11.00" text-anchor="middle" stroke="#3a3a3a" stroke-width="0.15" textLength="17.01" lengthAdjust="spacingAndGlyphs">950</text>
<line x1="359.50" y1="333.60" x2="366.90" y2="333.60" stroke="#333333" stroke-width="1.30" stroke-linecap="butt"/>
<text x="374.00" y="336.60" fill="#262626" font-size="9.60" text-anchor="start" stroke="#262626" stroke-width="0.18" textLength="114.6" lengthAdjust="spacingAndGlyphs">Brown hair + KOH + MT 3 T</text>
<line x1="359.50" y1="343.60" x2="366.90" y2="343.60" stroke="#4848f0" stroke-width="1.30" stroke-linecap="butt"/>
<text x="374.00" y="346.60" fill="#262626" font-size="9.60" text-anchor="start" stroke="#262626" stroke-width="0.18" textLength="167.3" lengthAdjust="spacingAndGlyphs">Brown hair + KOH + MT 3 T + JUGLONE</text>
<line x1="359.50" y1="353.80" x2="366.90" y2="353.80" stroke="#ff4040" stroke-width="1.30" stroke-linecap="butt"/>
<text x="374.00" y="356.80" fill="#262626" font-size="9.60" text-anchor="start" stroke="#262626" stroke-width="0.18" textLength="151.1" lengthAdjust="spacingAndGlyphs">JUGLONE + N-acetylcysteine adduct</text>
<line x1="359.50" y1="364.20" x2="366.90" y2="364.20" stroke="#ff4dff" stroke-width="1.30" stroke-linecap="butt"/>
<text x="374.00" y="367.20" fill="#262626" font-size="9.60" text-anchor="start" stroke="#262626" stroke-width="0.18" textLength="42.5" lengthAdjust="spacingAndGlyphs">JUGLONE</text>
<path d="M252.00,600.00 C252.33,599.67 252.87,599.30 254.00,598.00 C255.13,596.70 257.27,594.27 258.80,592.20 C260.33,590.13 262.10,588.52 263.20,585.60 C264.30,582.68 264.55,579.05 265.40,574.70 C266.25,570.35 267.50,562.35 268.30,559.50 C269.10,556.65 269.48,557.00 270.20,557.60 C270.92,558.20 271.58,560.25 272.60,563.10 C273.62,565.95 274.48,570.70 276.30,574.70 C278.12,578.70 281.32,584.07 283.50,587.10 C285.68,590.13 287.45,591.37 289.40,592.90 C291.35,594.43 293.52,596.05 295.20,596.30 C296.88,596.55 298.05,595.08 299.50,594.40 C300.95,593.72 302.43,594.27 303.90,592.20 C305.37,590.13 306.85,585.15 308.30,582.00 C309.75,578.85 310.90,576.22 312.60,573.30 C314.30,570.38 316.55,565.72 318.50,564.50 C320.45,563.28 321.88,564.30 324.30,566.00 C326.72,567.70 330.68,572.72 333.00,574.70 C335.32,576.68 335.97,576.27 338.20,577.90 C340.43,579.53 343.95,583.00 346.40,584.50 C348.85,586.00 350.58,585.82 352.90,586.90 C355.22,587.98 358.38,591.40 360.30,591.00 C362.22,590.60 363.03,587.08 364.40,584.50 C365.77,581.92 367.13,576.47 368.50,575.50 C369.87,574.53 370.83,576.80 372.60,578.70 C374.37,580.60 376.65,584.72 379.10,586.90 C381.55,589.08 384.43,590.35 387.30,591.80 C390.17,593.25 394.12,595.73 396.30,595.60 C398.48,595.47 399.18,593.40 400.40,591.00 C401.62,588.60 402.45,583.98 403.60,581.20 C404.75,578.42 406.07,574.30 407.30,574.30 C408.53,574.30 409.47,578.97 411.00,581.20 C412.53,583.43 415.03,587.98 416.50,587.70 C417.97,587.42 418.70,582.08 419.80,579.50 C420.90,576.92 422.00,572.73 423.10,572.20 C424.20,571.67 425.03,574.40 426.40,576.30 C427.77,578.20 429.40,581.75 431.30,583.60 C433.20,585.45 435.62,586.50 437.80,587.40 C439.98,588.30 442.35,589.08 444.40,589.00 C446.45,588.92 448.20,586.90 450.10,586.90 C452.00,586.90 453.22,588.37 455.80,589.00 C458.38,589.63 462.32,590.03 465.60,590.70 C468.88,591.37 471.95,592.45 475.50,593.00 C479.05,593.55 482.82,593.38 486.90,594.00 C490.98,594.62 494.33,595.92 500.00,596.70 C505.67,597.48 516.93,598.90 520.90,598.70 C524.87,598.50 522.83,596.57 523.80,595.50 C524.77,594.43 525.25,592.18 526.70,592.30 C528.15,592.42 529.45,595.43 532.50,596.20 C535.55,596.97 542.92,596.78 545.00,596.90" fill="none" stroke="#ff4dff" stroke-width="1.30" stroke-linejoin="round" stroke-linecap="round" clip-path="url(#cR)"/>
<path d="M252.00,545.00 C252.25,544.72 252.12,544.80 253.50,543.30 C254.88,541.80 258.38,538.13 260.30,536.00 C262.22,533.87 263.55,531.95 265.00,530.50 C266.45,529.05 267.37,527.35 269.00,527.30 C270.63,527.25 272.87,529.72 274.80,530.20 C276.73,530.68 278.65,529.52 280.60,530.20 C282.55,530.88 285.00,534.08 286.50,534.30 C288.00,534.52 288.80,533.22 289.60,531.50 C290.40,529.78 290.73,527.62 291.30,524.00 C291.87,520.38 292.23,514.58 293.00,509.80 C293.77,505.02 295.00,498.33 295.90,495.30 C296.80,492.27 297.43,490.88 298.40,491.60 C299.37,492.32 300.18,495.35 301.70,499.60 C303.22,503.85 305.43,515.15 307.50,517.10 C309.57,519.05 312.03,512.88 314.10,511.30 C316.17,509.72 317.97,507.85 319.90,507.60 C321.83,507.35 323.52,507.98 325.70,509.80 C327.88,511.62 330.65,516.05 333.00,518.50 C335.35,520.95 337.03,521.85 339.80,524.50 C342.57,527.15 347.15,533.57 349.60,534.40 C352.05,535.23 352.92,531.82 354.50,529.50 C356.08,527.18 357.73,521.33 359.10,520.50 C360.47,519.67 361.28,521.92 362.70,524.50 C364.12,527.08 365.95,533.13 367.60,536.00 C369.25,538.87 370.82,541.02 372.60,541.70 C374.38,542.38 376.13,540.10 378.30,540.10 C380.47,540.10 382.88,541.23 385.60,541.70 C388.32,542.17 391.87,543.58 394.60,542.90 C397.33,542.22 399.73,539.75 402.00,537.60 C404.27,535.45 406.28,530.95 408.20,530.00 C410.12,529.05 411.87,530.57 413.50,531.90 C415.13,533.23 416.53,536.10 418.00,538.00 C419.47,539.90 420.38,541.45 422.30,543.30 C424.22,545.15 427.32,547.77 429.50,549.10 C431.68,550.43 433.70,551.42 435.40,551.30 C437.10,551.18 438.02,549.73 439.70,548.40 C441.38,547.07 443.55,544.28 445.50,543.30 C447.45,542.32 449.45,542.13 451.40,542.50 C453.35,542.87 455.27,544.60 457.20,545.50 C459.13,546.40 460.82,547.18 463.00,547.90 C465.18,548.62 468.12,548.87 470.30,549.80 C472.48,550.73 473.92,552.28 476.10,553.50 C478.28,554.72 480.78,556.13 483.40,557.10 C486.02,558.07 488.95,558.77 491.80,559.30 C494.65,559.83 498.32,560.58 500.50,560.30 C502.68,560.02 503.38,558.48 504.90,557.60 C506.42,556.72 508.15,554.75 509.60,555.00 C511.05,555.25 512.20,557.57 513.60,559.10 C515.00,560.63 516.30,562.98 518.00,564.20 C519.70,565.42 521.13,565.85 523.80,566.40 C526.47,566.95 530.47,567.02 534.00,567.50 C537.53,567.98 543.17,569.00 545.00,569.30" fill="none" stroke="#ff4040" stroke-width="1.30" stroke-linejoin="round" stroke-linecap="round" clip-path="url(#cR)"/>
<path d="M252.00,488.00 C252.33,487.88 252.77,487.85 254.00,487.30 C255.23,486.75 257.45,485.55 259.40,484.70 C261.35,483.85 263.37,483.05 265.70,482.20 C268.03,481.35 271.07,480.45 273.40,479.60 C275.73,478.75 277.80,478.37 279.70,477.10 C281.60,475.83 282.88,473.80 284.80,472.00 C286.72,470.20 289.08,468.00 291.20,466.30 C293.32,464.60 295.60,463.18 297.50,461.80 C299.40,460.42 301.00,458.85 302.60,458.00 C304.20,457.15 305.62,456.65 307.10,456.70 C308.58,456.75 309.92,457.02 311.50,458.30 C313.08,459.58 314.90,462.33 316.60,464.40 C318.30,466.47 320.30,469.17 321.70,470.70 C323.10,472.23 323.32,472.45 325.00,473.60 C326.68,474.75 329.45,476.08 331.80,477.60 C334.15,479.12 336.67,481.72 339.10,482.70 C341.53,483.68 344.22,483.50 346.40,483.50 C348.58,483.50 349.78,482.10 352.20,482.70 C354.62,483.30 358.23,485.77 360.90,487.10 C363.57,488.43 365.77,489.37 368.20,490.70 C370.63,492.03 373.32,494.08 375.50,495.10 C377.68,496.12 379.33,497.07 381.30,496.80 C383.27,496.53 385.10,494.28 387.30,493.50 C389.50,492.72 392.08,492.38 394.50,492.10 C396.92,491.82 399.37,492.05 401.80,491.80 C404.23,491.55 406.67,491.52 409.10,490.60 C411.53,489.68 413.98,487.68 416.40,486.30 C418.82,484.92 421.67,482.92 423.60,482.30 C425.53,481.68 426.05,482.30 428.00,482.60 C429.95,482.90 433.37,484.05 435.30,484.10 C437.23,484.15 437.90,483.75 439.60,482.90 C441.30,482.05 443.85,479.90 445.50,479.00 C447.15,478.10 448.05,477.02 449.50,477.50 C450.95,477.98 452.47,480.05 454.20,481.90 C455.93,483.75 458.13,487.27 459.90,488.60 C461.67,489.93 463.17,489.37 464.80,489.90 C466.43,490.43 468.07,490.67 469.70,491.80 C471.33,492.93 472.68,494.78 474.60,496.70 C476.52,498.62 479.02,501.52 481.20,503.30 C483.38,505.08 484.97,506.18 487.70,507.40 C490.43,508.62 494.32,509.83 497.60,510.60 C500.88,511.37 504.13,511.85 507.40,512.00 C510.67,512.15 513.93,512.00 517.20,511.50 C520.47,511.00 524.00,509.63 527.00,509.00 C530.00,508.37 532.20,507.83 535.20,507.70 C538.20,507.57 543.37,508.12 545.00,508.20" fill="none" stroke="#333333" stroke-width="1.20" stroke-linejoin="round" stroke-linecap="round" clip-path="url(#cR)"/>
<path d="M252.00,477.00 C252.33,476.80 252.77,476.42 254.00,475.80 C255.23,475.18 257.45,474.25 259.40,473.30 C261.35,472.35 263.37,471.17 265.70,470.10 C268.03,469.03 271.27,468.07 273.40,466.90 C275.53,465.73 276.60,464.68 278.50,463.10 C280.40,461.52 282.68,459.32 284.80,457.40 C286.92,455.48 289.08,453.62 291.20,451.60 C293.32,449.58 295.38,447.10 297.50,445.30 C299.62,443.50 301.98,441.82 303.90,440.80 C305.82,439.78 307.30,439.08 309.00,439.20 C310.70,439.32 312.40,440.28 314.10,441.50 C315.80,442.72 317.63,444.88 319.20,446.50 C320.77,448.12 321.40,449.17 323.50,451.20 C325.60,453.23 329.20,456.48 331.80,458.70 C334.40,460.92 336.67,463.03 339.10,464.50 C341.53,465.97 343.98,467.37 346.40,467.50 C348.82,467.63 351.42,465.30 353.60,465.30 C355.78,465.30 357.07,465.93 359.50,467.50 C361.93,469.07 365.53,472.53 368.20,474.70 C370.87,476.87 373.32,479.02 375.50,480.50 C377.68,481.98 379.33,483.30 381.30,483.60 C383.27,483.90 385.10,482.63 387.30,482.30 C389.50,481.97 392.08,481.83 394.50,481.60 C396.92,481.37 399.37,481.33 401.80,480.90 C404.23,480.47 406.67,480.05 409.10,479.00 C411.53,477.95 413.98,476.05 416.40,474.60 C418.82,473.15 421.67,470.95 423.60,470.30 C425.53,469.65 426.05,470.33 428.00,470.70 C429.95,471.07 433.37,472.25 435.30,472.50 C437.23,472.75 437.90,472.93 439.60,472.20 C441.30,471.47 443.80,469.27 445.50,468.10 C447.20,466.93 448.12,465.12 449.80,465.20 C451.48,465.28 453.92,468.07 455.60,468.60 C457.28,469.13 458.08,468.27 459.90,468.40 C461.72,468.53 464.58,468.22 466.50,469.40 C468.42,470.58 469.77,473.27 471.40,475.50 C473.03,477.73 474.40,480.08 476.30,482.80 C478.20,485.52 480.35,489.20 482.80,491.80 C485.25,494.40 488.00,496.62 491.00,498.40 C494.00,500.18 497.25,501.55 500.80,502.50 C504.35,503.45 508.48,503.83 512.30,504.10 C516.12,504.37 520.15,504.15 523.70,504.10 C527.25,504.05 530.05,503.65 533.60,503.80 C537.15,503.95 543.10,504.80 545.00,505.00" fill="none" stroke="#3a3af0" stroke-width="1.20" stroke-linejoin="round" stroke-linecap="round" clip-path="url(#cR)"/>
<text x="273.50" y="419.70" fill="#1414f5" font-size="18.3" font-weight="bold" text-anchor="middle">*</text>
<text x="274.10" y="428.80" fill="#1414f5" font-size="12.40" text-anchor="middle" stroke="#1414f5" stroke-width="0.28">1295</text>
<text x="273.60" y="442.80" fill="#1414f5" font-size="12.40" font-weight="bold" text-anchor="middle" stroke="#1414f5" stroke-width="0.18">v COH</text>
<line x1="275.30" y1="449.10" x2="268.00" y2="463.70" stroke="#1414f5" stroke-width="1.40" stroke-linecap="butt"/>
<text x="312.80" y="378.80" fill="#1414f5" font-size="18.3" font-weight="bold" text-anchor="middle">*</text>
<text x="312.80" y="388.30" fill="#1414f5" font-size="12.40" text-anchor="middle" stroke="#1414f5" stroke-width="0.28">1234</text>
<text x="312.8" y="402.3" fill="#1414f5" font-size="12.4" font-weight="bold" text-anchor="middle">Amide III <tspan font-weight="normal">(&#946;)</tspan></text>
<line x1="308.20" y1="404.90" x2="308.20" y2="435.70" stroke="#1414f5" stroke-width="1.40" stroke-linecap="butt"/>
<text x="342.60" y="379.30" fill="#1414f5" font-size="12.40" font-weight="bold" text-anchor="middle" stroke="#1414f5" stroke-width="0.18">S</text>
<text x="356.70" y="388.50" fill="#1414f5" font-size="12.40" text-anchor="middle" stroke="#1414f5" stroke-width="0.28">1203</text>
<line x1="357.00" y1="394.00" x2="329.60" y2="450.70" stroke="#1414f5" stroke-width="1.40" stroke-linecap="butt"/>
<text x="358.60" y="425.10" fill="#1414f5" font-size="18.3" font-weight="bold" text-anchor="middle">*</text>
<text x="360.00" y="432.40" fill="#1414f5" font-size="12.40" text-anchor="middle" stroke="#1414f5" stroke-width="0.28">1171</text>
<text x="360.00" y="445.30" fill="#1414f5" font-size="12.40" font-weight="bold" text-anchor="middle" stroke="#1414f5" stroke-width="0.18">&#948; CH</text>
<line x1="359.10" y1="450.70" x2="354.70" y2="462.70" stroke="#1414f5" stroke-width="1.40" stroke-linecap="butt"/>
<text x="389.00" y="447.80" fill="#1414f5" font-size="12.40" font-weight="bold" text-anchor="middle" stroke="#1414f5" stroke-width="0.18">S</text>
<text x="389.60" y="462.60" fill="#1414f5" font-size="12.40" text-anchor="middle" stroke="#1414f5" stroke-width="0.28">1125</text>
<line x1="389.00" y1="464.80" x2="392.90" y2="477.90" stroke="#1414f5" stroke-width="1.40" stroke-linecap="butt"/>
<text x="403.70" y="402.40" fill="#1414f5" font-size="18.3" font-weight="bold" text-anchor="middle">*</text>
<text x="401.70" y="414.10" fill="#1414f5" font-size="12.40" text-anchor="middle" stroke="#1414f5" stroke-width="0.28">1099</text>
<text x="401.70" y="428.20" fill="#1414f5" font-size="12.40" font-weight="bold" text-anchor="middle" stroke="#1414f5" stroke-width="0.18">&#948; CH</text>
<line x1="405.30" y1="435.40" x2="409.30" y2="477.90" stroke="#1414f5" stroke-width="1.40" stroke-linecap="butt"/>
<text x="435.40" y="402.40" fill="#1414f5" font-size="18.3" font-weight="bold" text-anchor="middle">*</text>
<text x="434.50" y="412.50" fill="#1414f5" font-size="12.40" text-anchor="middle" stroke="#1414f5" stroke-width="0.28">1075</text>
<text x="434.50" y="426.60" fill="#1414f5" font-size="12.40" font-weight="bold" text-anchor="middle" stroke="#1414f5" stroke-width="0.18">&#948; CH</text>
<line x1="432.80" y1="433.70" x2="427.30" y2="464.80" stroke="#1414f5" stroke-width="1.40" stroke-linecap="butt"/>
<text x="469.80" y="402.40" fill="#1414f5" font-size="18.3" font-weight="bold" text-anchor="middle">*</text>
<text x="469.10" y="414.10" fill="#1414f5" font-size="12.40" text-anchor="middle" stroke="#1414f5" stroke-width="0.28">1042</text>
<text x="469.10" y="428.20" fill="#1414f5" font-size="12.40" font-weight="bold" text-anchor="middle" stroke="#1414f5" stroke-width="0.18">&#948; CH</text>
<line x1="457.70" y1="437.00" x2="451.80" y2="459.90" stroke="#1414f5" stroke-width="1.40" stroke-linecap="butt"/>
<text x="472.40" y="447.80" fill="#1414f5" font-size="12.40" font-weight="bold" text-anchor="middle" stroke="#1414f5" stroke-width="0.18">S</text>
<text x="473.30" y="462.60" fill="#1414f5" font-size="12.40" text-anchor="middle" stroke="#1414f5" stroke-width="0.28">1024</text>
<text x="515.60" y="463.00" fill="#1414f5" font-size="18.3" font-weight="bold" text-anchor="middle">*</text>
<text x="516.60" y="471.40" fill="#1414f5" font-size="12.40" text-anchor="middle" stroke="#1414f5" stroke-width="0.28">926</text>
<text x="516.60" y="484.50" fill="#1414f5" font-size="12.40" font-weight="bold" text-anchor="middle" stroke="#1414f5" stroke-width="0.18">&#948; CH</text>
<line x1="518.40" y1="489.70" x2="531.50" y2="498.90" stroke="#1414f5" stroke-width="1.40" stroke-linecap="butt"/>
<text x="269.40" y="503.20" fill="#ff1a1a" font-size="12.40" text-anchor="middle" stroke="#ff1a1a" stroke-width="0.28">1289</text>
<text x="298.80" y="486.80" fill="#ff1a1a" font-size="12.40" text-anchor="middle" stroke="#ff1a1a" stroke-width="0.28">1248</text>
<text x="323.30" y="502.80" fill="#ff1a1a" font-size="12.40" text-anchor="middle" stroke="#ff1a1a" stroke-width="0.28">1226</text>
<text x="279.50" y="524.50" fill="#ff1a1a" font-size="12.40" text-anchor="middle" stroke="#ff1a1a" stroke-width="0.28">1275</text>
<text x="359.50" y="516.30" fill="#ff1a1a" font-size="12.40" text-anchor="middle" stroke="#ff1a1a" stroke-width="0.28">1167</text>
<text x="407.50" y="527.20" fill="#ff1a1a" font-size="12.40" text-anchor="middle" stroke="#ff1a1a" stroke-width="0.28">1097</text>
<text x="446.80" y="538.10" fill="#ff1a1a" font-size="12.40" text-anchor="middle" stroke="#ff1a1a" stroke-width="0.28">1042</text>
<text x="507.30" y="550.70" fill="#ff1a1a" font-size="12.40" text-anchor="middle" stroke="#ff1a1a" stroke-width="0.28">961</text>
<text x="270.50" y="554.50" fill="#ff1aff" font-size="12.40" text-anchor="middle" stroke="#ff1aff" stroke-width="0.28">1287</text>
<text x="318.00" y="559.90" fill="#ff1aff" font-size="12.40" text-anchor="middle" stroke="#ff1aff" stroke-width="0.28">1220</text>
<text x="367.30" y="570.70" fill="#ff1aff" font-size="12.40" text-anchor="middle" stroke="#ff1aff" stroke-width="0.28">1153</text>
<text x="401.00" y="570.30" fill="#ff1aff" font-size="12.40" text-anchor="middle" stroke="#ff1aff" stroke-width="0.28">1099</text>
<text x="426.50" y="566.60" fill="#ff1aff" font-size="12.40" text-anchor="middle" stroke="#ff1aff" stroke-width="0.28">1078</text>
<text x="525.30" y="588.40" fill="#ff1aff" font-size="12.40" text-anchor="middle" stroke="#ff1aff" stroke-width="0.28">936</text>
<text x="347.90" y="641.70" fill="#111" font-size="11" font-weight="bold">wavenumber/cm<tspan font-size="6.8" dx="0.6" dy="-2.9">-1</tspan></text>
</svg>
</body></html>
